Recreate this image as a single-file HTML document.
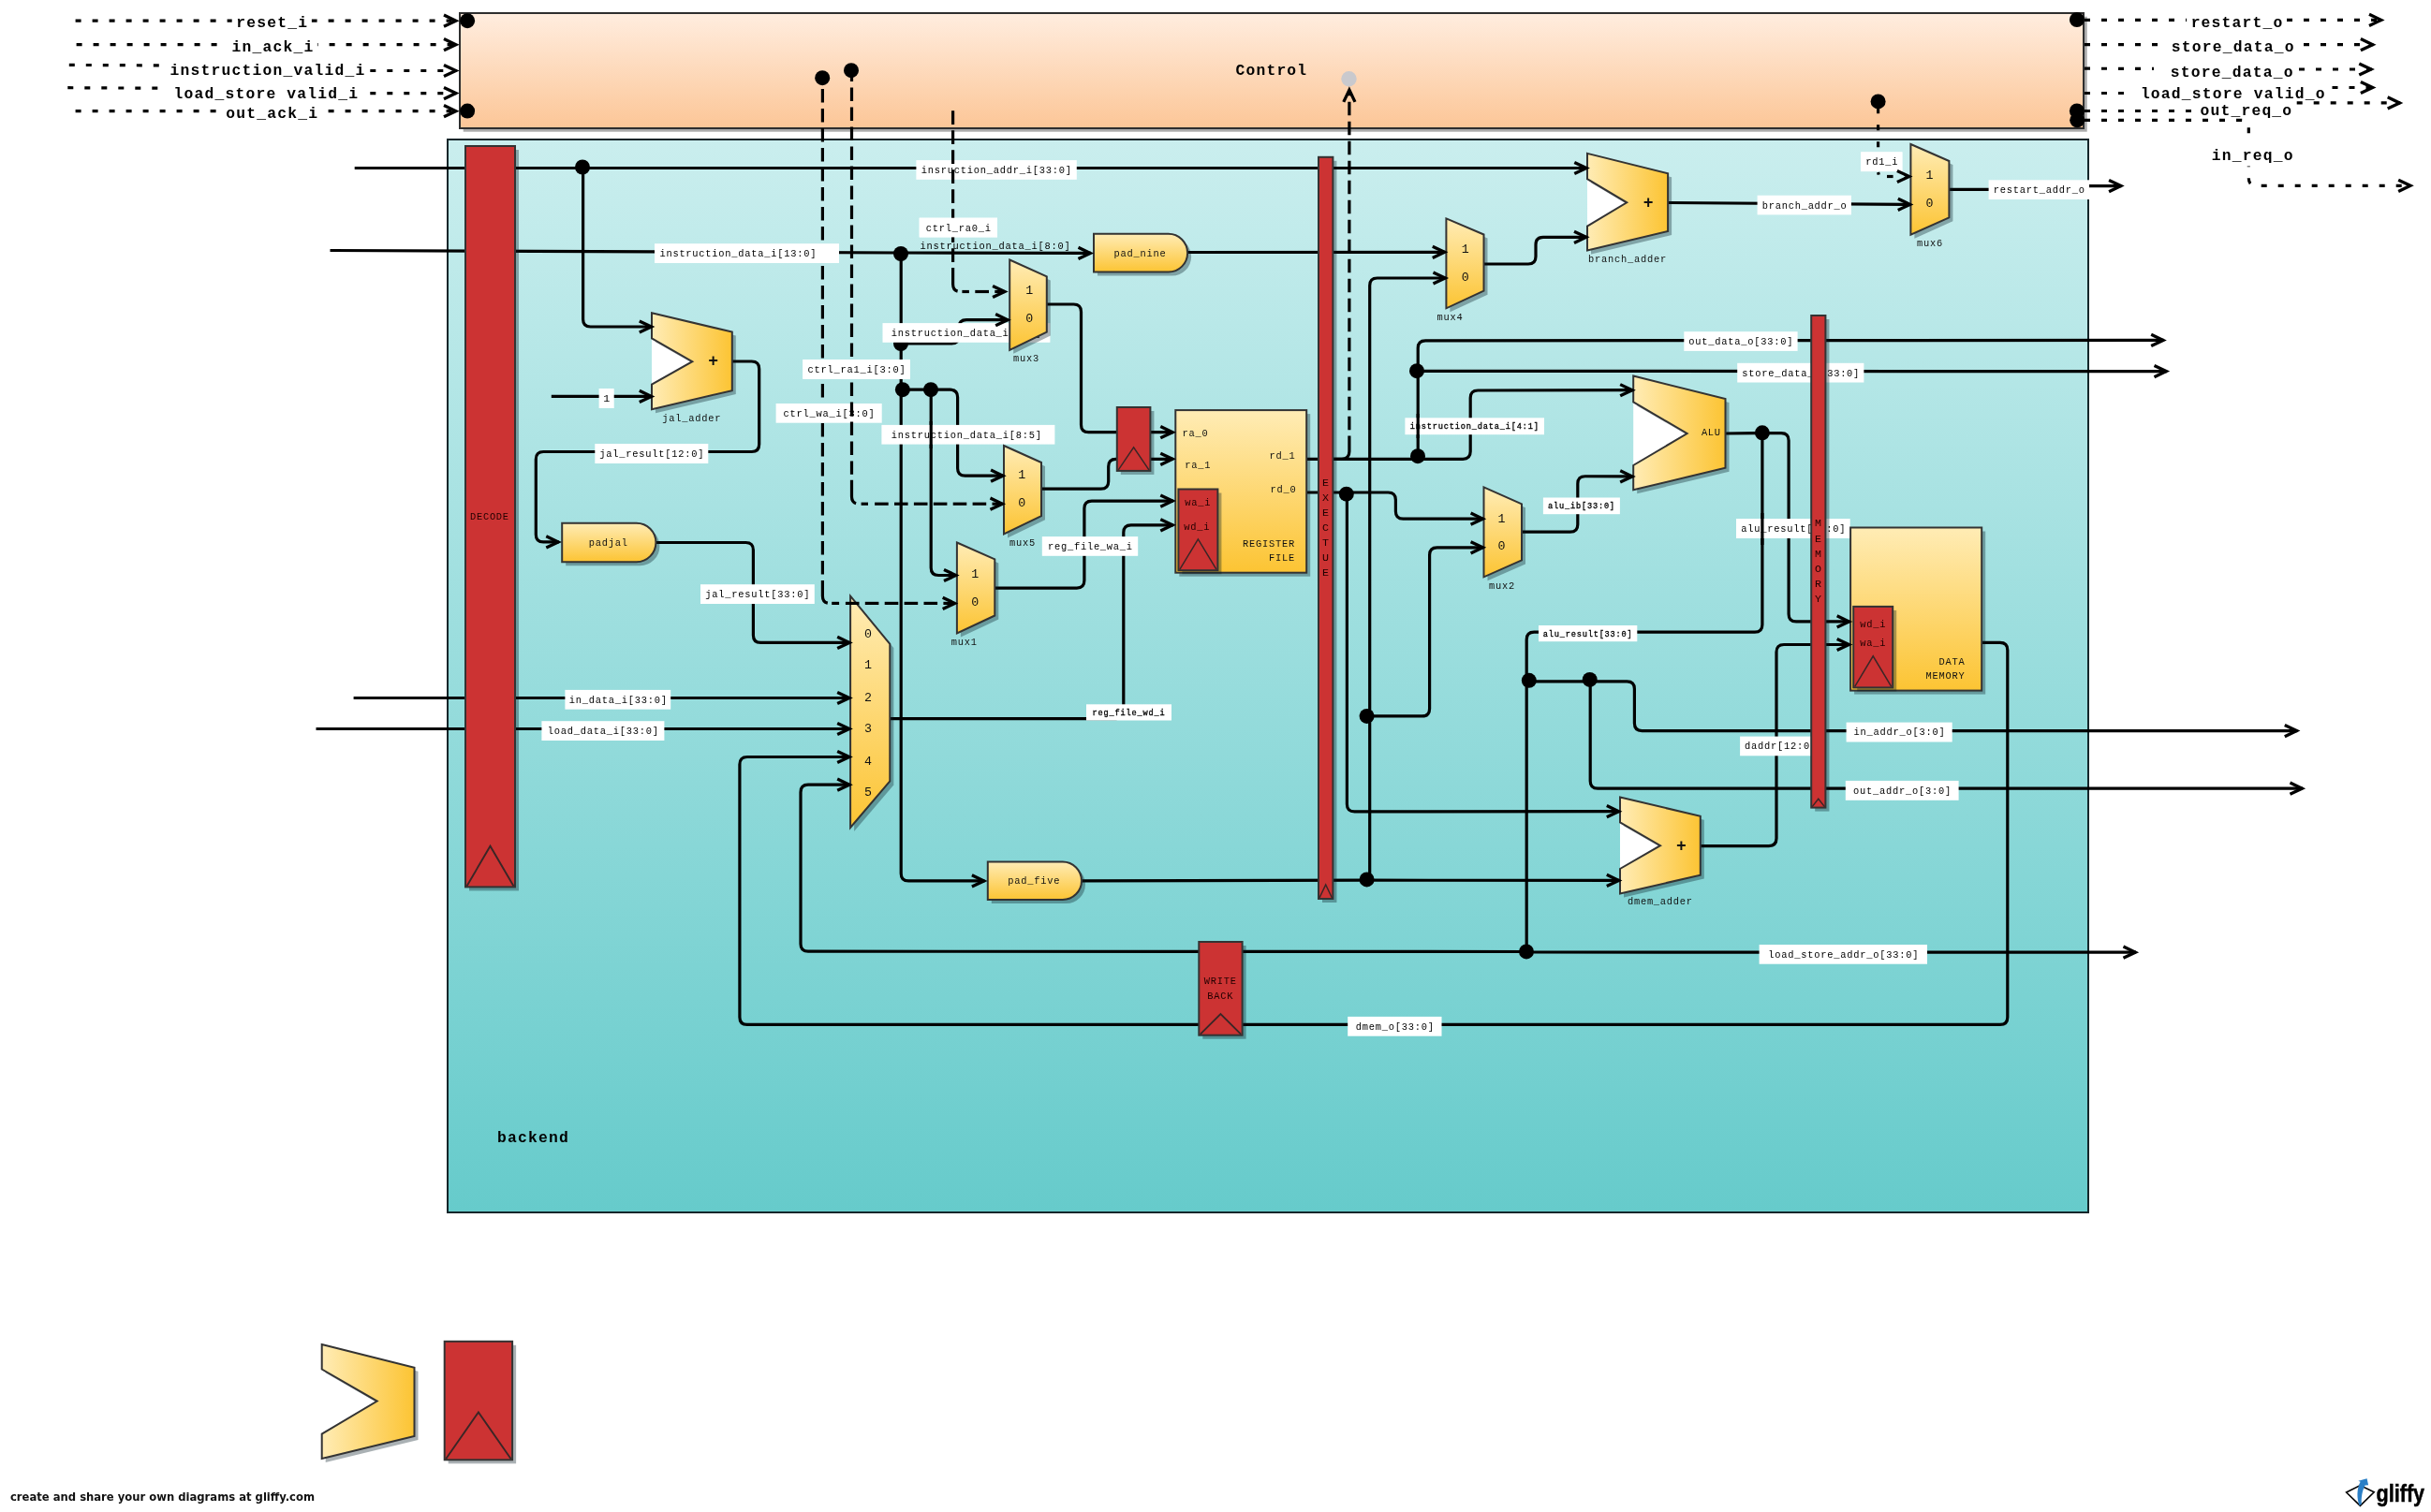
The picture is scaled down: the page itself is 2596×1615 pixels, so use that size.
<!DOCTYPE html>
<html><head><meta charset="utf-8"><title>backend datapath</title>
<style>html,body{margin:0;padding:0;background:#fff}svg{display:block;will-change:transform}text{white-space:pre}</style>
</head><body>
<svg width="2596" height="1615" viewBox="0 0 2596 1615">
<defs>
<linearGradient id="gctl" x1="0" y1="0" x2="0" y2="1"><stop offset="0" stop-color="#ffeddf"/><stop offset="1" stop-color="#fcc697"/></linearGradient>
<linearGradient id="gbk" x1="0" y1="0" x2="0" y2="1"><stop offset="0" stop-color="#caeeee"/><stop offset="1" stop-color="#66cbcb"/></linearGradient>
<linearGradient id="gyv" x1="0" y1="0" x2="0" y2="1"><stop offset="0" stop-color="#ffecb5"/><stop offset="1" stop-color="#fcc433"/></linearGradient>
<linearGradient id="gyh" x1="0" y1="0" x2="1" y2="0"><stop offset="0" stop-color="#ffecb5"/><stop offset="1" stop-color="#fcc433"/></linearGradient>
</defs>
<rect x="494.7" y="17.7" width="1734" height="123" fill="rgba(0,0,0,0.33)"/>
<rect x="491" y="14" width="1734" height="123" fill="url(#gctl)" stroke="#2e2e2e" stroke-width="2"/>
<rect x="478" y="149" width="1752" height="1146" fill="url(#gbk)" stroke="#14262a" stroke-width="2"/>
<text x="1357.9" y="80" font-family='"Liberation Mono","DejaVu Sans Mono",monospace' font-size="16.31" font-weight="bold" text-anchor="middle" fill="#000" letter-spacing="1.21">Control</text>
<text x="531" y="1219.7" font-family='"Liberation Mono","DejaVu Sans Mono",monospace' font-size="16.31" font-weight="bold" text-anchor="start" fill="#000" letter-spacing="1.21">backend</text>
<text x="982.6" y="265.68" font-family='"Liberation Mono","DejaVu Sans Mono",monospace' font-size="10.39" text-anchor="start" fill="#000" letter-spacing="0.77">instruction_data_i[8:0]</text>
<path d="M378.7 179.5 L1694.8 179.5" fill="none" stroke="#000" stroke-width="3.2"/>
<path d="M622.6 179 L622.6 341 Q622.6 349 630.6 349 L696.3 349" fill="none" stroke="#000" stroke-width="3.2"/>
<path d="M352.5 267.5 L962 270 Q962 270 962 270 L1165 270.39" fill="none" stroke="#000" stroke-width="3.2"/>
<path d="M588.8 423.4 L696.3 423.4" fill="none" stroke="#000" stroke-width="3.2"/>
<path d="M782 386 L802.7 386 Q810.7 386 810.7 394 L810.7 474.5 Q810.7 482.5 802.7 482.5 L580.3 482.5 Q572.3 482.5 572.3 490.5 L572.3 570.9 Q572.3 578.9 580.3 578.9 L596.8 578.9" fill="none" stroke="#000" stroke-width="3.2"/>
<path d="M700.4 579.5 L796.4 579.5 Q804.4 579.5 804.4 587.5 L804.4 678.4 Q804.4 686.4 812.4 686.4 L907.7 686.4" fill="none" stroke="#000" stroke-width="3.2"/>
<path d="M377.6 745.5 L907.7 745.5" fill="none" stroke="#000" stroke-width="3.2"/>
<path d="M337.5 778.5 L907.7 778.5" fill="none" stroke="#000" stroke-width="3.2"/>
<path d="M2116.2 686.4 L2135.8 686.4 Q2143.8 686.4 2143.8 694.4 L2143.8 1086.4 Q2143.8 1094.4 2135.8 1094.4 L797.9 1094.4 Q789.9 1094.4 789.9 1086.4 L789.9 816.5 Q789.9 808.5 797.9 808.5 L907.7 808.5" fill="none" stroke="#000" stroke-width="3.2"/>
<path d="M1630 1016.5 L863 1016.2 Q855 1016.2 855 1008.2 L855 846.2 Q855 838.2 863 838.2 L907.7 838.2" fill="none" stroke="#000" stroke-width="3.2"/>
<path d="M1630 1017 L2281 1017.2" fill="none" stroke="#000" stroke-width="3.2"/>
<path d="M1630.2 1016.5 L1630.2 683.2 Q1630.2 675.2 1638.2 675.2 L1873.9 675.2 Q1881.9 675.2 1881.9 667.2 L1881.9 462.5" fill="none" stroke="#000" stroke-width="3.2"/>
<path d="M1632.8 727.8 L1737.4 727.8 Q1745.4 727.8 1745.4 735.8 L1745.4 772.6 Q1745.4 780.6 1753.4 780.6 L2453.3 780.6" fill="none" stroke="#000" stroke-width="3.2"/>
<path d="M1698.2 726 L1698.2 834.2 Q1698.2 842.2 1706.2 842.2 L2459 842.2" fill="none" stroke="#000" stroke-width="3.2"/>
<path d="M950.3 767.7 L1191.8 767.7 Q1199.8 767.7 1199.8 759.7 L1199.8 568.8 Q1199.8 560.8 1207.8 560.8 L1252.8 560.8" fill="none" stroke="#000" stroke-width="3.2"/>
<path d="M1062.3 628.1 L1149.9 628.1 Q1157.9 628.1 1157.9 620.1 L1157.9 543.1 Q1157.9 535.1 1165.9 535.1 L1252.8 535.1" fill="none" stroke="#000" stroke-width="3.2"/>
<path d="M1112 522.2 L1175.7 522.2 Q1183.7 522.2 1183.7 514.2 L1183.7 498.3 Q1183.7 490.3 1191.7 490.3 L1252.8 490.3" fill="none" stroke="#000" stroke-width="3.2"/>
<path d="M1117.8 325 L1146.5 325 Q1154.5 325 1154.5 333 L1154.5 453.7 Q1154.5 461.7 1162.5 461.7 L1252.8 461.7" fill="none" stroke="#000" stroke-width="3.2"/>
<path d="M962.2 271 L962.2 932.9 Q962.2 940.9 970.2 940.9 L1051.4 940.9" fill="none" stroke="#000" stroke-width="3.2"/>
<path d="M962 367 L1016 367 Q1024 367 1024 359 L1024 349.7 Q1024 341.7 1032 341.7 L1076.7 341.7" fill="none" stroke="#000" stroke-width="3.2"/>
<path d="M963.9 416.2 L1014.6 416.2 Q1022.6 416.2 1022.6 424.2 L1022.6 500.2 Q1022.6 508.2 1030.6 508.2 L1071.6 508.2" fill="none" stroke="#000" stroke-width="3.2"/>
<path d="M994.2 416.2 L994.2 606.5 Q994.2 614.5 1002.2 614.5 L1021.5 614.5" fill="none" stroke="#000" stroke-width="3.2"/>
<path d="M1268 269.5 L1543.3 269.3" fill="none" stroke="#000" stroke-width="3.2"/>
<path d="M1584.5 282 L1632 282 Q1640 282 1640 274 L1640 261.3 Q1640 253.3 1648 253.3 L1694.5 253.3" fill="none" stroke="#000" stroke-width="3.2"/>
<path d="M1781.1 216.5 L2040.3 218.4" fill="none" stroke="#000" stroke-width="3.2"/>
<path d="M2081.4 202.4 L2130 202.4" fill="none" stroke="#000" stroke-width="3.2"/>
<path d="M2225 198.6 L2265.6 198.6" fill="none" stroke="#000" stroke-width="3.2"/>
<path d="M1395.2 490.3 L1562.2 490.3 Q1570.2 490.3 1570.2 482.3 L1570.2 425 Q1570.2 417 1578.2 416.99 L1743.7 416.7" fill="none" stroke="#000" stroke-width="3.2"/>
<path d="M1514.2 487.5 L1514.2 371.8 Q1514.2 363.8 1522.2 363.8 L2310.7 363.4" fill="none" stroke="#000" stroke-width="3.2"/>
<path d="M1513 396.4 L2314 396.6" fill="none" stroke="#000" stroke-width="3.2"/>
<path d="M1395.2 526 L1482.4 526 Q1490.4 526 1490.4 534 L1490.4 546.2 Q1490.4 554.2 1498.4 554.2 L1584.1 554.2" fill="none" stroke="#000" stroke-width="3.2"/>
<path d="M1438.4 527.6 L1438.4 858.9 Q1438.4 866.9 1446.4 866.89 L1729.3 866.7" fill="none" stroke="#000" stroke-width="3.2"/>
<path d="M1462.7 939.2 L1462.7 305 Q1462.7 297 1470.7 297 L1544 297" fill="none" stroke="#000" stroke-width="3.2"/>
<path d="M1459.6 764.9 L1518.6 764.9 Q1526.6 764.9 1526.6 756.9 L1526.6 592.8 Q1526.6 584.8 1534.6 584.8 L1584.1 584.8" fill="none" stroke="#000" stroke-width="3.2"/>
<path d="M1155 940.9 L1459.6 940.2 Q1459.6 940.2 1459.6 940.2 L1729.3 940.4" fill="none" stroke="#000" stroke-width="3.2"/>
<path d="M1625 568.2 L1676.8 568.2 Q1684.8 568.2 1684.8 560.2 L1684.8 516.7 Q1684.8 508.7 1692.8 508.73 L1743.7 508.9" fill="none" stroke="#000" stroke-width="3.2"/>
<path d="M1842.5 463 L1873.9 462.68 Q1881.9 462.6 1889.9 462.6 L1902.1 462.6 Q1910.1 462.6 1910.1 470.6 L1910.1 655.9 Q1910.1 663.9 1918.1 663.9 L1975.2 663.9" fill="none" stroke="#000" stroke-width="3.2"/>
<path d="M1815.9 903.6 L1889 903.6 Q1897 903.6 1897 895.6 L1897 696.5 Q1897 688.5 1905 688.5 L1975.2 688.5" fill="none" stroke="#000" stroke-width="3.2"/>
<circle cx="622" cy="178.5" r="8" fill="#000"/>
<circle cx="962" cy="271" r="8" fill="#000"/>
<circle cx="962" cy="367" r="8" fill="#000"/>
<circle cx="963.9" cy="416.2" r="8" fill="#000"/>
<circle cx="994" cy="416.2" r="8" fill="#000"/>
<circle cx="1514" cy="487.2" r="8" fill="#000"/>
<circle cx="1513" cy="396.2" r="8" fill="#000"/>
<circle cx="1437.8" cy="527.7" r="8" fill="#000"/>
<circle cx="1459.6" cy="764.9" r="8" fill="#000"/>
<circle cx="1459.6" cy="939.4" r="8" fill="#000"/>
<circle cx="1881.9" cy="462.3" r="8" fill="#000"/>
<circle cx="1632.8" cy="726.8" r="8" fill="#000"/>
<circle cx="1697.7" cy="725.9" r="8" fill="#000"/>
<circle cx="1630" cy="1016.4" r="8" fill="#000"/>
<circle cx="878.2" cy="83.2" r="8" fill="#000"/>
<circle cx="909" cy="75.2" r="8" fill="#000"/>
<circle cx="499.1" cy="22.2" r="8" fill="#000"/>
<circle cx="499.1" cy="118.6" r="8" fill="#000"/>
<circle cx="2217.9" cy="21.1" r="8" fill="#000"/>
<circle cx="2217.9" cy="118.5" r="8" fill="#000"/>
<circle cx="2218.2" cy="128.3" r="8" fill="#000"/>
<circle cx="2005.6" cy="108.4" r="8" fill="#000"/>
<circle cx="1440.5" cy="84.2" r="8.2" fill="#c9c9cd"/>
<polygon points="912.1,640.7 954.3,691.9 954.3,838.4 912.1,888" fill="rgba(5,25,35,0.34)"/>
<polygon points="908.1,636.7 950.3,687.9 950.3,834.4 908.1,884" fill="url(#gyv)" stroke="#333" stroke-width="2" stroke-linejoin="miter"/>
<text x="927" y="680.6" font-family='"Liberation Mono","DejaVu Sans Mono",monospace' font-size="13.3" text-anchor="middle" fill="#111">0</text>
<text x="927" y="714.3" font-family='"Liberation Mono","DejaVu Sans Mono",monospace' font-size="13.3" text-anchor="middle" fill="#111">1</text>
<text x="927" y="748.6" font-family='"Liberation Mono","DejaVu Sans Mono",monospace' font-size="13.3" text-anchor="middle" fill="#111">2</text>
<text x="927" y="782.3" font-family='"Liberation Mono","DejaVu Sans Mono",monospace' font-size="13.3" text-anchor="middle" fill="#111">3</text>
<text x="927" y="816.6" font-family='"Liberation Mono","DejaVu Sans Mono",monospace' font-size="13.3" text-anchor="middle" fill="#111">4</text>
<text x="927" y="850.3" font-family='"Liberation Mono","DejaVu Sans Mono",monospace' font-size="13.3" text-anchor="middle" fill="#111">5</text>
<path d="M878.4 83.2 L878.4 614.1" fill="none" stroke="#000" stroke-width="3.2" stroke-dasharray="14.7 6.3" stroke-dashoffset="9.3"/>
<path d="M878.4 620.1 L878.4 636.4 Q878.4 642.97 883.8 644.15" fill="none" stroke="#000" stroke-width="3.2"/>
<path d="M888.2 644.4 L896.1 644.4" fill="none" stroke="#000" stroke-width="3.2"/>
<path d="M902.9 644.4 L917.5 644.4" fill="none" stroke="#000" stroke-width="3.2"/>
<path d="M923.8 644.4 L938.4 644.4" fill="none" stroke="#000" stroke-width="3.2"/>
<path d="M944.7 644.4 L959.3 644.4" fill="none" stroke="#000" stroke-width="3.2"/>
<path d="M965.6 644.4 L980.2 644.4" fill="none" stroke="#000" stroke-width="3.2"/>
<path d="M986.5 644.4 L1001.1 644.4" fill="none" stroke="#000" stroke-width="3.2"/>
<path d="M1007.4 644.4 L1019.5 644.4" fill="none" stroke="#000" stroke-width="3.2"/>
<rect x="978.4" y="171.1" width="171.4" height="20.7" fill="#fff"/>
<text x="983.8" y="184.83" font-family='"Liberation Mono","DejaVu Sans Mono",monospace' font-size="10.39" text-anchor="start" fill="#000" letter-spacing="0.77">insruction_addr_i[33:0]</text>
<rect x="699" y="260.2" width="197" height="20.8" fill="#fff"/>
<text x="704.4" y="273.98" font-family='"Liberation Mono","DejaVu Sans Mono",monospace' font-size="10.39" text-anchor="start" fill="#000" letter-spacing="0.77">instruction_data_i[13:0]</text>
<rect x="981.7" y="232.7" width="83.3" height="20.7" fill="#fff"/>
<text x="1023.74" y="246.83" font-family='"Liberation Mono","DejaVu Sans Mono",monospace' font-size="10.39" text-anchor="middle" fill="#000" letter-spacing="0.77">ctrl_ra0_i</text>
<rect x="942.5" y="345.1" width="178.9" height="20.7" fill="#fff"/>
<text x="951.7" y="358.98" font-family='"Liberation Mono","DejaVu Sans Mono",monospace' font-size="10.39" text-anchor="start" fill="#000" letter-spacing="0.77">instruction_data_i[8:0]</text>
<rect x="857.3" y="384.1" width="114.5" height="20.7" fill="#fff"/>
<text x="914.94" y="398.18" font-family='"Liberation Mono","DejaVu Sans Mono",monospace' font-size="10.39" text-anchor="middle" fill="#000" letter-spacing="0.77">ctrl_ra1_i[3:0]</text>
<rect x="828.6" y="431" width="113.1" height="20.7" fill="#fff"/>
<text x="885.54" y="445.23" font-family='"Liberation Mono","DejaVu Sans Mono",monospace' font-size="10.39" text-anchor="middle" fill="#000" letter-spacing="0.77">ctrl_wa_i[3:0]</text>
<rect x="941.4" y="453.9" width="185" height="20.7" fill="#fff"/>
<text x="951.8" y="467.93" font-family='"Liberation Mono","DejaVu Sans Mono",monospace' font-size="10.39" text-anchor="start" fill="#000" letter-spacing="0.77">instruction_data_i[8:5]</text>
<rect x="639.6" y="415" width="16.1" height="21" fill="#fff"/>
<text x="647.65" y="428.88" font-family='"Liberation Mono","DejaVu Sans Mono",monospace' font-size="11.67" text-anchor="middle" fill="#000">1</text>
<rect x="635.3" y="474" width="121" height="21" fill="#fff"/>
<text x="696.19" y="487.88" font-family='"Liberation Mono","DejaVu Sans Mono",monospace' font-size="10.39" text-anchor="middle" fill="#000" letter-spacing="0.77">jal_result[12:0]</text>
<rect x="748" y="624.2" width="121.8" height="20.8" fill="#fff"/>
<text x="809.29" y="637.98" font-family='"Liberation Mono","DejaVu Sans Mono",monospace' font-size="10.39" text-anchor="middle" fill="#000" letter-spacing="0.77">jal_result[33:0]</text>
<rect x="603.4" y="736.9" width="112.8" height="20.8" fill="#fff"/>
<text x="660.19" y="750.68" font-family='"Liberation Mono","DejaVu Sans Mono",monospace' font-size="10.39" text-anchor="middle" fill="#000" letter-spacing="0.77">in_data_i[33:0]</text>
<rect x="578.4" y="770.2" width="131" height="20.8" fill="#fff"/>
<text x="644.29" y="783.98" font-family='"Liberation Mono","DejaVu Sans Mono",monospace' font-size="10.39" text-anchor="middle" fill="#000" letter-spacing="0.77">load_data_i[33:0]</text>
<rect x="1112.8" y="573.1" width="102.4" height="20.7" fill="#fff"/>
<text x="1164.39" y="586.98" font-family='"Liberation Mono","DejaVu Sans Mono",monospace' font-size="10.39" text-anchor="middle" fill="#000" letter-spacing="0.77">reg_file_wa_i</text>
<rect x="1160" y="752.3" width="91" height="17.2" fill="#fff"/>
<text x="1205.5" y="763.8" font-family='"Liberation Mono","DejaVu Sans Mono",monospace' font-size="8.6" text-anchor="middle" fill="#000" stroke="#000" stroke-width="0.3" letter-spacing="0.84">reg_file_wd_i</text>
<rect x="1500.4" y="446.3" width="148.6" height="17.9" fill="#fff"/>
<text x="1574.7" y="458.15" font-family='"Liberation Mono","DejaVu Sans Mono",monospace' font-size="8.6" text-anchor="middle" fill="#000" stroke="#000" stroke-width="0.3" letter-spacing="0.84">instruction_data_i[4:1]</text>
<rect x="1647.9" y="531.5" width="82" height="17.7" fill="#fff"/>
<text x="1688.9" y="543.25" font-family='"Liberation Mono","DejaVu Sans Mono",monospace' font-size="8.6" text-anchor="middle" fill="#000" stroke="#000" stroke-width="0.3" letter-spacing="0.84">alu_ib[33:0]</text>
<rect x="1643" y="668" width="105.3" height="17.2" fill="#fff"/>
<text x="1695.65" y="679.5" font-family='"Liberation Mono","DejaVu Sans Mono",monospace' font-size="8.6" text-anchor="middle" fill="#000" stroke="#000" stroke-width="0.3" letter-spacing="0.84">alu_result[33:0]</text>
<rect x="1854" y="554.1" width="121.7" height="20.9" fill="#fff"/>
<text x="1915.24" y="567.93" font-family='"Liberation Mono","DejaVu Sans Mono",monospace' font-size="10.39" text-anchor="middle" fill="#000" letter-spacing="0.77">alu_result[33:0]</text>
<rect x="1798.3" y="354.2" width="121.3" height="20.7" fill="#fff"/>
<text x="1859.34" y="368.03" font-family='"Liberation Mono","DejaVu Sans Mono",monospace' font-size="10.39" text-anchor="middle" fill="#000" letter-spacing="0.77">out_data_o[33:0]</text>
<rect x="1855.2" y="387.8" width="135.2" height="20.7" fill="#fff"/>
<text x="1860.2" y="401.63" font-family='"Liberation Mono","DejaVu Sans Mono",monospace' font-size="10.39" text-anchor="start" fill="#000" letter-spacing="0.77">store_data_o[33:0]</text>
<rect x="1876.6" y="208.7" width="100.3" height="20.7" fill="#fff"/>
<text x="1927.14" y="222.58" font-family='"Liberation Mono","DejaVu Sans Mono",monospace' font-size="10.39" text-anchor="middle" fill="#000" letter-spacing="0.77">branch_addr_o</text>
<rect x="2123.6" y="192.3" width="107.4" height="20.7" fill="#fff"/>
<text x="2177.69" y="206.18" font-family='"Liberation Mono","DejaVu Sans Mono",monospace' font-size="10.39" text-anchor="middle" fill="#000" letter-spacing="0.77">restart_addr_o</text>
<rect x="1987.2" y="162.4" width="44.2" height="20.7" fill="#fff"/>
<text x="2009.69" y="176.43" font-family='"Liberation Mono","DejaVu Sans Mono",monospace' font-size="10.39" text-anchor="middle" fill="#000" letter-spacing="0.77">rd1_i</text>
<rect x="1971.6" y="771.6" width="113.1" height="20.9" fill="#fff"/>
<text x="2028.54" y="785.43" font-family='"Liberation Mono","DejaVu Sans Mono",monospace' font-size="10.39" text-anchor="middle" fill="#000" letter-spacing="0.77">in_addr_o[3:0]</text>
<rect x="1970.8" y="833.9" width="120.8" height="20.9" fill="#fff"/>
<text x="2031.59" y="847.73" font-family='"Liberation Mono","DejaVu Sans Mono",monospace' font-size="10.39" text-anchor="middle" fill="#000" letter-spacing="0.77">out_addr_o[3:0]</text>
<rect x="1858.1" y="786.6" width="87.9" height="20.7" fill="#fff"/>
<text x="1863" y="800.43" font-family='"Liberation Mono","DejaVu Sans Mono",monospace' font-size="10.39" text-anchor="start" fill="#000" letter-spacing="0.77">daddr[12:0]</text>
<rect x="1878.6" y="1009" width="179.4" height="20.7" fill="#fff"/>
<text x="1968.69" y="1022.88" font-family='"Liberation Mono","DejaVu Sans Mono",monospace' font-size="10.39" text-anchor="middle" fill="#000" letter-spacing="0.77">load_store_addr_o[33:0]</text>
<rect x="1439.2" y="1085.9" width="100.3" height="20.8" fill="#fff"/>
<text x="1489.74" y="1099.68" font-family='"Liberation Mono","DejaVu Sans Mono",monospace' font-size="10.39" text-anchor="middle" fill="#000" letter-spacing="0.77">dmem_o[33:0]</text>
<path d="M1881.9 548 L1881.9 582" fill="none" stroke="#000" stroke-width="3.2"/>
<path d="M909.5 75.2 L909.5 506.8" fill="none" stroke="#000" stroke-width="3.2" stroke-dasharray="14.7 6.3" stroke-dashoffset="2.8"/>
<path d="M909.5 512.8 L909.5 530.2 Q909.5 536.27 914.1 537.73" fill="none" stroke="#000" stroke-width="3.2"/>
<path d="M919.6 538.2 L927 538.2" fill="none" stroke="#000" stroke-width="3.2"/>
<path d="M934.1 538.2 L948.7 538.2" fill="none" stroke="#000" stroke-width="3.2"/>
<path d="M955 538.2 L969.6 538.2" fill="none" stroke="#000" stroke-width="3.2"/>
<path d="M975.9 538.2 L990.5 538.2" fill="none" stroke="#000" stroke-width="3.2"/>
<path d="M996.8 538.2 L1011.4 538.2" fill="none" stroke="#000" stroke-width="3.2"/>
<path d="M1017.7 538.2 L1032.3 538.2" fill="none" stroke="#000" stroke-width="3.2"/>
<path d="M1038.6 538.2 L1053.2 538.2" fill="none" stroke="#000" stroke-width="3.2"/>
<path d="M1059.5 538.2 L1070.5 538.2" fill="none" stroke="#000" stroke-width="3.2"/>
<path d="M1017.6 118.2 L1017.6 280.1" fill="none" stroke="#000" stroke-width="3.2" stroke-dasharray="14.7 6.3"/>
<path d="M1017.6 286.1 L1017.6 303.5 Q1017.6 309.82 1022.6 311.15" fill="none" stroke="#000" stroke-width="3.2"/>
<path d="M1027.4 311.5 L1034.9 311.5" fill="none" stroke="#000" stroke-width="3.2"/>
<path d="M1041.3 311.5 L1056 311.5" fill="none" stroke="#000" stroke-width="3.2"/>
<path d="M1062.3 311.5 L1073 311.5" fill="none" stroke="#000" stroke-width="3.2"/>
<path d="M1424 490.3 L1432.9 490.3 Q1440.9 490.3 1440.9 482.3 L1440.9 465.6" fill="none" stroke="#000" stroke-width="3.2"/>
<path d="M1440.9 459.3 L1440.9 96.2" fill="none" stroke="#000" stroke-width="3.2" stroke-dasharray="14.6 6.4"/>
<rect x="857.3" y="384.1" width="114.5" height="20.7" fill="#fff"/>
<text x="914.94" y="398.18" font-family='"Liberation Mono","DejaVu Sans Mono",monospace' font-size="10.39" text-anchor="middle" fill="#000" letter-spacing="0.77">ctrl_ra1_i[3:0]</text>
<path d="M994.2 450 L994.2 479" fill="none" stroke="#000" stroke-width="3.2"/>
<path d="M1514.2 442 L1514.2 468" fill="none" stroke="#000" stroke-width="3.2"/>
<rect x="981.7" y="232.7" width="83.3" height="20.7" fill="#fff"/>
<text x="1023.74" y="246.83" font-family='"Liberation Mono","DejaVu Sans Mono",monospace' font-size="10.39" text-anchor="middle" fill="#000" letter-spacing="0.77">ctrl_ra0_i</text>
<path d="M2005.6 108.4 L2005.6 162" fill="none" stroke="#000" stroke-width="3.2" stroke-dasharray="6 12" stroke-dashoffset="11.1"/>
<path d="M2005.6 184 L2006.3 186.6" fill="none" stroke="#000" stroke-width="3.2"/>
<path d="M2015 188.5 L2021.6 188.5" fill="none" stroke="#000" stroke-width="3.2"/>
<rect x="1987.2" y="162.4" width="44.2" height="20.7" fill="#fff"/>
<text x="2009.69" y="176.43" font-family='"Liberation Mono","DejaVu Sans Mono",monospace' font-size="10.39" text-anchor="middle" fill="#000" letter-spacing="0.77">rd1_i</text>
<path d="M80.6 22.2 L487.5 22.2" fill="none" stroke="#000" stroke-width="3.2" stroke-dasharray="6 12"/>
<path d="M81.6 47.7 L487.5 47.7" fill="none" stroke="#000" stroke-width="3.2" stroke-dasharray="6 12"/>
<path d="M73.8 69.4 L171 69.9" fill="none" stroke="#000" stroke-width="3.2" stroke-dasharray="6 12"/>
<path d="M395.3 75.5 L487.5 75.5" fill="none" stroke="#000" stroke-width="3.2" stroke-dasharray="6 12"/>
<path d="M72.3 93.7 L170 94.2" fill="none" stroke="#000" stroke-width="3.2" stroke-dasharray="6 12"/>
<path d="M395.3 99.6 L487.5 99.6" fill="none" stroke="#000" stroke-width="3.2" stroke-dasharray="6 12"/>
<path d="M80.6 118.7 L487.5 118.7" fill="none" stroke="#000" stroke-width="3.2" stroke-dasharray="6 12"/>
<rect x="247.7" y="16.4" width="85" height="16" fill="#fff"/>
<text x="290.8" y="29.4" font-family='"Liberation Mono","DejaVu Sans Mono",monospace' font-size="16.31" font-weight="bold" text-anchor="middle" fill="#000" letter-spacing="1.21">reset_i</text>
<rect x="242.9" y="41.9" width="96" height="16" fill="#fff"/>
<text x="291.5" y="54.9" font-family='"Liberation Mono","DejaVu Sans Mono",monospace' font-size="16.31" font-weight="bold" text-anchor="middle" fill="#000" letter-spacing="1.21">in_ack_i</text>
<rect x="179.9" y="66.8" width="211" height="16" fill="#fff"/>
<text x="286" y="79.8" font-family='"Liberation Mono","DejaVu Sans Mono",monospace' font-size="16.31" font-weight="bold" text-anchor="middle" fill="#000" letter-spacing="1.21">instruction_valid_i</text>
<rect x="183.8" y="91.5" width="200" height="16" fill="#fff"/>
<text x="284.4" y="104.5" font-family='"Liberation Mono","DejaVu Sans Mono",monospace' font-size="16.31" font-weight="bold" text-anchor="middle" fill="#000" letter-spacing="1.21">load_store valid_i</text>
<rect x="236.7" y="112.8" width="107" height="16" fill="#fff"/>
<text x="290.8" y="125.8" font-family='"Liberation Mono","DejaVu Sans Mono",monospace' font-size="16.31" font-weight="bold" text-anchor="middle" fill="#000" letter-spacing="1.21">out_ack_i</text>
<path d="M2226 21.4 L2543.5 21.4" fill="none" stroke="#000" stroke-width="3.2" stroke-dasharray="6 12"/>
<path d="M2226 47.7 L2534.4 47.7" fill="none" stroke="#000" stroke-width="3.2" stroke-dasharray="6 12"/>
<path d="M2226 73.2 L2300 73.4" fill="none" stroke="#000" stroke-width="3.2" stroke-dasharray="6 12"/>
<path d="M2455 74 L2532.8 74" fill="none" stroke="#000" stroke-width="3.2" stroke-dasharray="6 12"/>
<path d="M2226 99.5 L2275 99.5" fill="none" stroke="#000" stroke-width="3.2" stroke-dasharray="6 12"/>
<path d="M2490.5 93.5 L2534.4 93.5" fill="none" stroke="#000" stroke-width="3.2" stroke-dasharray="6 12"/>
<path d="M2226 118.5 L2340 118.5" fill="none" stroke="#000" stroke-width="3.2" stroke-dasharray="6 12"/>
<path d="M2452.7 109.9 L2563.2 109.9" fill="none" stroke="#000" stroke-width="3.2" stroke-dasharray="6 12"/>
<path d="M2226 128.3 L2393.3 128.3 Q2401.3 128.3 2401.3 136.3 L2401.3 190.3 Q2401.3 198.3 2409.3 198.3 L2574.7 198.3" fill="none" stroke="#000" stroke-width="3.2" stroke-dasharray="6 12"/>
<rect x="2335" y="16" width="107" height="16" fill="#fff"/>
<text x="2389.1" y="29" font-family='"Liberation Mono","DejaVu Sans Mono",monospace' font-size="16.31" font-weight="bold" text-anchor="middle" fill="#000" letter-spacing="1.21">restart_o</text>
<rect x="2314.2" y="41.5" width="140" height="16" fill="#fff"/>
<text x="2384.8" y="54.5" font-family='"Liberation Mono","DejaVu Sans Mono",monospace' font-size="16.31" font-weight="bold" text-anchor="middle" fill="#000" letter-spacing="1.21">store_data_o</text>
<rect x="2313.1" y="68.6" width="140" height="16" fill="#fff"/>
<text x="2383.7" y="81.6" font-family='"Liberation Mono","DejaVu Sans Mono",monospace' font-size="16.31" font-weight="bold" text-anchor="middle" fill="#000" letter-spacing="1.21">store_data_o</text>
<rect x="2284.2" y="91.7" width="200" height="16" fill="#fff"/>
<text x="2384.8" y="104.7" font-family='"Liberation Mono","DejaVu Sans Mono",monospace' font-size="16.31" font-weight="bold" text-anchor="middle" fill="#000" letter-spacing="1.21">load_store valid_o</text>
<rect x="2347.8" y="109.8" width="101" height="16" fill="#fff"/>
<text x="2398.9" y="122.8" font-family='"Liberation Mono","DejaVu Sans Mono",monospace' font-size="16.31" font-weight="bold" text-anchor="middle" fill="#000" letter-spacing="1.21">out_req_o</text>
<rect x="2395" y="145" width="13" height="32.5" fill="#fff"/>
<rect x="2357.1" y="157.5" width="96" height="16" fill="#fff"/>
<text x="2405.7" y="170.5" font-family='"Liberation Mono","DejaVu Sans Mono",monospace' font-size="16.31" font-weight="bold" text-anchor="middle" fill="#000" letter-spacing="1.21">in_req_o</text>
<rect x="501" y="160" width="53" height="791.4" fill="rgba(5,25,35,0.34)"/>
<rect x="497" y="156" width="53" height="791.4" fill="#cc3333" stroke="#333" stroke-width="2"/>
<path d="M498.5 946.4 L523.5 903.7 L548.5 946.4" fill="none" stroke="#3a2626" stroke-width="1.9" stroke-linejoin="miter"/>
<text x="522.89" y="555" font-family='"Liberation Mono","DejaVu Sans Mono",monospace' font-size="10.39" text-anchor="middle" fill="#200" letter-spacing="0.77">DECODE</text>
<rect x="1412" y="171.8" width="15.4" height="792.2" fill="rgba(5,25,35,0.34)"/>
<rect x="1408" y="167.8" width="15.4" height="792.2" fill="#cc3333" stroke="#333" stroke-width="2"/>
<path d="M1409 959 L1415.7 945 L1422.4 959" fill="none" stroke="#3a2626" stroke-width="1.5" stroke-linejoin="miter"/>
<text x="1415.4" y="519" font-family='"Liberation Mono","DejaVu Sans Mono",monospace' font-size="11.67" text-anchor="middle" fill="#200">E</text>
<text x="1415.4" y="535" font-family='"Liberation Mono","DejaVu Sans Mono",monospace' font-size="11.67" text-anchor="middle" fill="#200">X</text>
<text x="1415.4" y="551" font-family='"Liberation Mono","DejaVu Sans Mono",monospace' font-size="11.67" text-anchor="middle" fill="#200">E</text>
<text x="1415.4" y="567" font-family='"Liberation Mono","DejaVu Sans Mono",monospace' font-size="11.67" text-anchor="middle" fill="#200">C</text>
<text x="1415.4" y="583" font-family='"Liberation Mono","DejaVu Sans Mono",monospace' font-size="11.67" text-anchor="middle" fill="#200">T</text>
<text x="1415.4" y="599" font-family='"Liberation Mono","DejaVu Sans Mono",monospace' font-size="11.67" text-anchor="middle" fill="#200">U</text>
<text x="1415.4" y="615" font-family='"Liberation Mono","DejaVu Sans Mono",monospace' font-size="11.67" text-anchor="middle" fill="#200">E</text>
<rect x="1938.2" y="341" width="15.2" height="525.6" fill="rgba(5,25,35,0.34)"/>
<rect x="1934.2" y="337" width="15.2" height="525.6" fill="#cc3333" stroke="#333" stroke-width="2"/>
<path d="M1935.2 861.6 L1941.8 853.2 L1948.4 861.6" fill="none" stroke="#3a2626" stroke-width="1.5" stroke-linejoin="miter"/>
<text x="1941.6" y="562.4" font-family='"Liberation Mono","DejaVu Sans Mono",monospace' font-size="11.67" text-anchor="middle" fill="#200">M</text>
<text x="1941.6" y="578.5" font-family='"Liberation Mono","DejaVu Sans Mono",monospace' font-size="11.67" text-anchor="middle" fill="#200">E</text>
<text x="1941.6" y="594.6" font-family='"Liberation Mono","DejaVu Sans Mono",monospace' font-size="11.67" text-anchor="middle" fill="#200">M</text>
<text x="1941.6" y="610.7" font-family='"Liberation Mono","DejaVu Sans Mono",monospace' font-size="11.67" text-anchor="middle" fill="#200">O</text>
<text x="1941.6" y="626.8" font-family='"Liberation Mono","DejaVu Sans Mono",monospace' font-size="11.67" text-anchor="middle" fill="#200">R</text>
<text x="1941.6" y="642.9" font-family='"Liberation Mono","DejaVu Sans Mono",monospace' font-size="11.67" text-anchor="middle" fill="#200">Y</text>
<rect x="1284.3" y="1010" width="46.3" height="99.7" fill="rgba(5,25,35,0.34)"/>
<rect x="1280.3" y="1006" width="46.3" height="99.7" fill="#cc3333" stroke="#333" stroke-width="2"/>
<path d="M1281.8 1104.7 L1303.45 1083 L1325.1 1104.7" fill="none" stroke="#3a2626" stroke-width="1.9" stroke-linejoin="miter"/>
<text x="1303.19" y="1051.3" font-family='"Liberation Mono","DejaVu Sans Mono",monospace' font-size="10.39" text-anchor="middle" fill="#200" letter-spacing="0.77">WRITE</text>
<text x="1303.19" y="1067.3" font-family='"Liberation Mono","DejaVu Sans Mono",monospace' font-size="10.39" text-anchor="middle" fill="#200" letter-spacing="0.77">BACK</text>
<rect x="1196.8" y="439" width="35.6" height="67.9" fill="rgba(5,25,35,0.34)"/>
<rect x="1192.8" y="435" width="35.6" height="67.9" fill="#cc3333" stroke="#333" stroke-width="2"/>
<path d="M1194.3 501.9 L1210.6 477.8 L1226.9 501.9" fill="none" stroke="#3a2626" stroke-width="1.5" stroke-linejoin="miter"/>
<polygon points="696,361.3 739.3,386.2 696,410.6" fill="#fff"/>
<polygon points="700,338.2 785.8,358.6 785.8,421.1 700,441.3 700,414.6 743.3,390.2 700,365.3" fill="rgba(5,25,35,0.34)"/>
<polygon points="696,334.2 781.8,354.6 781.8,417.1 696,437.3 696,410.6 739.3,386.2 696,361.3" fill="url(#gyh)" stroke="#333" stroke-width="2" stroke-linejoin="miter"/>
<text x="761.6" y="391.4" font-family='"Liberation Mono","DejaVu Sans Mono",monospace' font-size="18" font-weight="bold" text-anchor="middle" fill="#111">+</text>
<text x="738.79" y="449.9" font-family='"Liberation Mono","DejaVu Sans Mono",monospace' font-size="10.39" text-anchor="middle" fill="#111" letter-spacing="0.77">jal_adder</text>
<polygon points="1695,191.2 1737.2,216.3 1695,241.6" fill="#fff"/>
<polygon points="1699,167.9 1785.1,189.2 1785.1,251 1699,271.5 1699,245.6 1741.2,220.3 1699,195.2" fill="rgba(5,25,35,0.34)"/>
<polygon points="1695,163.9 1781.1,185.2 1781.1,247 1695,267.5 1695,241.6 1737.2,216.3 1695,191.2" fill="url(#gyh)" stroke="#333" stroke-width="2" stroke-linejoin="miter"/>
<text x="1760.2" y="221.7" font-family='"Liberation Mono","DejaVu Sans Mono",monospace' font-size="18" font-weight="bold" text-anchor="middle" fill="#111">+</text>
<text x="1738.09" y="280.1" font-family='"Liberation Mono","DejaVu Sans Mono",monospace' font-size="10.39" text-anchor="middle" fill="#111" letter-spacing="0.77">branch_adder</text>
<polygon points="1744.2,429.4 1801.6,463 1744.2,497" fill="#fff"/>
<polygon points="1748.2,405.5 1846.5,430.1 1846.5,503.8 1748.2,527.2 1748.2,501 1805.6,467 1748.2,433.4" fill="rgba(5,25,35,0.34)"/>
<polygon points="1744.2,401.5 1842.5,426.1 1842.5,499.8 1744.2,523.2 1744.2,497 1801.6,463 1744.2,429.4" fill="url(#gyh)" stroke="#333" stroke-width="2" stroke-linejoin="miter"/>
<text x="1827.39" y="465" font-family='"Liberation Mono","DejaVu Sans Mono",monospace' font-size="10.39" text-anchor="middle" fill="#111" letter-spacing="0.77">ALU</text>
<polygon points="1730,878.3 1773,903.2 1730,928" fill="#fff"/>
<polygon points="1734,855.5 1819.8,875.8 1819.8,938.6 1734,958.5 1734,932 1777,907.2 1734,882.3" fill="rgba(5,25,35,0.34)"/>
<polygon points="1730,851.5 1815.8,871.8 1815.8,934.6 1730,954.5 1730,928 1773,903.2 1730,878.3" fill="url(#gyh)" stroke="#333" stroke-width="2" stroke-linejoin="miter"/>
<text x="1795.5" y="908.6" font-family='"Liberation Mono","DejaVu Sans Mono",monospace' font-size="18" font-weight="bold" text-anchor="middle" fill="#111">+</text>
<text x="1772.89" y="966.2" font-family='"Liberation Mono","DejaVu Sans Mono",monospace' font-size="10.39" text-anchor="middle" fill="#111" letter-spacing="0.77">dmem_adder</text>
<polygon points="347.7,1440 446.5,1464.8 446.5,1538 347.7,1562 347.7,1535.6 406.7,1500.6 347.7,1466.5" fill="rgba(5,25,35,0.34)"/>
<polygon points="343.7,1436 442.5,1460.8 442.5,1534 343.7,1558 343.7,1531.6 402.7,1496.6 343.7,1462.5" fill="url(#gyh)" stroke="#333" stroke-width="2" stroke-linejoin="miter"/>
<rect x="478.7" y="1436.8" width="72.4" height="126.5" fill="rgba(5,25,35,0.34)"/>
<rect x="474.7" y="1432.8" width="72.4" height="126.5" fill="#cc3333" stroke="#333" stroke-width="2"/>
<path d="M476.2 1558.3 L510.9 1508.4 L545.6 1558.3" fill="none" stroke="#3a2626" stroke-width="1.9" stroke-linejoin="miter"/>
<path d="M1172 253.8 L1251.7 253.8 A20.4 20.4 0 0 1 1251.7 294.6 L1172 294.6 Z" fill="rgba(5,25,35,0.34)"/>
<path d="M1168 249.8 L1247.7 249.8 A20.4 20.4 0 0 1 1247.7 290.6 L1168 290.6 Z" fill="url(#gyv)" stroke="#333" stroke-width="2"/>
<text x="1217.44" y="273.8" font-family='"Liberation Mono","DejaVu Sans Mono",monospace' font-size="10.39" text-anchor="middle" fill="#111" letter-spacing="0.77">pad_nine</text>
<path d="M604.2 562.7 L683.65 562.7 A20.75 20.75 0 0 1 683.65 604.2 L604.2 604.2 Z" fill="rgba(5,25,35,0.34)"/>
<path d="M600.2 558.7 L679.65 558.7 A20.75 20.75 0 0 1 679.65 600.2 L600.2 600.2 Z" fill="url(#gyv)" stroke="#333" stroke-width="2"/>
<text x="649.69" y="583.05" font-family='"Liberation Mono","DejaVu Sans Mono",monospace' font-size="10.39" text-anchor="middle" fill="#111" letter-spacing="0.77">padjal</text>
<path d="M1058.8 924.5 L1138.75 924.5 A20.25 20.25 0 0 1 1138.75 965 L1058.8 965 Z" fill="rgba(5,25,35,0.34)"/>
<path d="M1054.8 920.5 L1134.75 920.5 A20.25 20.25 0 0 1 1134.75 961 L1054.8 961 Z" fill="url(#gyv)" stroke="#333" stroke-width="2"/>
<text x="1104.29" y="944.35" font-family='"Liberation Mono","DejaVu Sans Mono",monospace' font-size="10.39" text-anchor="middle" fill="#111" letter-spacing="0.77">pad_five</text>
<polygon points="1082.2,281.5 1121.8,299.4 1121.8,358.6 1082.2,377.8" fill="rgba(5,25,35,0.34)"/>
<polygon points="1078.2,277.5 1117.8,295.4 1117.8,354.6 1078.2,373.8" fill="url(#gyv)" stroke="#333" stroke-width="2" stroke-linejoin="miter"/>
<text x="1099.2" y="314" font-family='"Liberation Mono","DejaVu Sans Mono",monospace' font-size="13.3" text-anchor="middle" fill="#111">1</text>
<text x="1099.2" y="344" font-family='"Liberation Mono","DejaVu Sans Mono",monospace' font-size="13.3" text-anchor="middle" fill="#111">0</text>
<text x="1095.89" y="386.3" font-family='"Liberation Mono","DejaVu Sans Mono",monospace' font-size="10.39" text-anchor="middle" fill="#111" letter-spacing="0.77">mux3</text>
<polygon points="1548.4,237.4 1588.5,254.5 1588.5,314.7 1548.4,333.3" fill="rgba(5,25,35,0.34)"/>
<polygon points="1544.4,233.4 1584.5,250.5 1584.5,310.7 1544.4,329.3" fill="url(#gyv)" stroke="#333" stroke-width="2" stroke-linejoin="miter"/>
<text x="1564.8" y="270.1" font-family='"Liberation Mono","DejaVu Sans Mono",monospace' font-size="13.3" text-anchor="middle" fill="#111">1</text>
<text x="1564.8" y="300.1" font-family='"Liberation Mono","DejaVu Sans Mono",monospace' font-size="13.3" text-anchor="middle" fill="#111">0</text>
<text x="1548.39" y="341.8" font-family='"Liberation Mono","DejaVu Sans Mono",monospace' font-size="10.39" text-anchor="middle" fill="#111" letter-spacing="0.77">mux4</text>
<polygon points="2044.4,158 2085.4,176 2085.4,236.3 2044.4,254.7" fill="rgba(5,25,35,0.34)"/>
<polygon points="2040.4,154 2081.4,172 2081.4,232.3 2040.4,250.7" fill="url(#gyv)" stroke="#333" stroke-width="2" stroke-linejoin="miter"/>
<text x="2060.5" y="191" font-family='"Liberation Mono","DejaVu Sans Mono",monospace' font-size="13.3" text-anchor="middle" fill="#111">1</text>
<text x="2060.5" y="220.9" font-family='"Liberation Mono","DejaVu Sans Mono",monospace' font-size="13.3" text-anchor="middle" fill="#111">0</text>
<text x="2060.89" y="262.9" font-family='"Liberation Mono","DejaVu Sans Mono",monospace' font-size="10.39" text-anchor="middle" fill="#111" letter-spacing="0.77">mux6</text>
<polygon points="1076,480 1116,498 1116,555.2 1076,574.5" fill="rgba(5,25,35,0.34)"/>
<polygon points="1072,476 1112,494 1112,551.2 1072,570.5" fill="url(#gyv)" stroke="#333" stroke-width="2" stroke-linejoin="miter"/>
<text x="1091.3" y="511" font-family='"Liberation Mono","DejaVu Sans Mono",monospace' font-size="13.3" text-anchor="middle" fill="#111">1</text>
<text x="1091.3" y="541" font-family='"Liberation Mono","DejaVu Sans Mono",monospace' font-size="13.3" text-anchor="middle" fill="#111">0</text>
<text x="1092.09" y="583.1" font-family='"Liberation Mono","DejaVu Sans Mono",monospace' font-size="10.39" text-anchor="middle" fill="#111" letter-spacing="0.77">mux5</text>
<polygon points="1025.9,583.5 1066.3,601.4 1066.3,661.5 1025.9,680.4" fill="rgba(5,25,35,0.34)"/>
<polygon points="1021.9,579.5 1062.3,597.4 1062.3,657.5 1021.9,676.4" fill="url(#gyv)" stroke="#333" stroke-width="2" stroke-linejoin="miter"/>
<text x="1041.2" y="617.3" font-family='"Liberation Mono","DejaVu Sans Mono",monospace' font-size="13.3" text-anchor="middle" fill="#111">1</text>
<text x="1041.2" y="647.3" font-family='"Liberation Mono","DejaVu Sans Mono",monospace' font-size="13.3" text-anchor="middle" fill="#111">0</text>
<text x="1029.79" y="689" font-family='"Liberation Mono","DejaVu Sans Mono",monospace' font-size="10.39" text-anchor="middle" fill="#111" letter-spacing="0.77">mux1</text>
<polygon points="1588.5,524.4 1629,542.3 1629,602.4 1588.5,620.3" fill="rgba(5,25,35,0.34)"/>
<polygon points="1584.5,520.4 1625,538.3 1625,598.4 1584.5,616.3" fill="url(#gyv)" stroke="#333" stroke-width="2" stroke-linejoin="miter"/>
<text x="1603.5" y="557.5" font-family='"Liberation Mono","DejaVu Sans Mono",monospace' font-size="13.3" text-anchor="middle" fill="#111">1</text>
<text x="1603.5" y="587.2" font-family='"Liberation Mono","DejaVu Sans Mono",monospace' font-size="13.3" text-anchor="middle" fill="#111">0</text>
<text x="1603.89" y="629.2" font-family='"Liberation Mono","DejaVu Sans Mono",monospace' font-size="10.39" text-anchor="middle" fill="#111" letter-spacing="0.77">mux2</text>
<rect x="1259.3" y="442.1" width="139.9" height="173.6" fill="rgba(5,25,35,0.34)"/>
<rect x="1255.3" y="438.1" width="139.9" height="173.6" fill="url(#gyv)" stroke="#333" stroke-width="2"/>
<rect x="1262.4" y="526.5" width="42" height="86.7" fill="rgba(5,25,35,0.34)"/>
<rect x="1258.4" y="522.5" width="42" height="86.7" fill="#cc3333" stroke="#333" stroke-width="2"/>
<path d="M1259.9 608.2 L1279.4 575.9 L1298.9 608.2" fill="none" stroke="#3a2626" stroke-width="1.5" stroke-linejoin="miter"/>
<text x="1276.39" y="466.4" font-family='"Liberation Mono","DejaVu Sans Mono",monospace' font-size="10.39" text-anchor="middle" fill="#111" letter-spacing="0.77">ra_0</text>
<text x="1279.29" y="500.4" font-family='"Liberation Mono","DejaVu Sans Mono",monospace' font-size="10.39" text-anchor="middle" fill="#111" letter-spacing="0.77">ra_1</text>
<text x="1369.39" y="490.4" font-family='"Liberation Mono","DejaVu Sans Mono",monospace' font-size="10.39" text-anchor="middle" fill="#111" letter-spacing="0.77">rd_1</text>
<text x="1370.49" y="526.1" font-family='"Liberation Mono","DejaVu Sans Mono",monospace' font-size="10.39" text-anchor="middle" fill="#111" letter-spacing="0.77">rd_0</text>
<text x="1279.29" y="540.1" font-family='"Liberation Mono","DejaVu Sans Mono",monospace' font-size="10.39" text-anchor="middle" fill="#200" letter-spacing="0.77">wa_i</text>
<text x="1278.19" y="566.2" font-family='"Liberation Mono","DejaVu Sans Mono",monospace' font-size="10.39" text-anchor="middle" fill="#200" letter-spacing="0.77">wd_i</text>
<text x="1383.07" y="583.8" font-family='"Liberation Mono","DejaVu Sans Mono",monospace' font-size="10.39" text-anchor="end" fill="#111" letter-spacing="0.77">REGISTER</text>
<text x="1383.07" y="598.8" font-family='"Liberation Mono","DejaVu Sans Mono",monospace' font-size="10.39" text-anchor="end" fill="#111" letter-spacing="0.77">FILE</text>
<rect x="1980.1" y="567.5" width="140.1" height="174.1" fill="rgba(5,25,35,0.34)"/>
<rect x="1976.1" y="563.5" width="140.1" height="174.1" fill="url(#gyv)" stroke="#333" stroke-width="2"/>
<rect x="1983.2" y="651.9" width="42" height="86.5" fill="rgba(5,25,35,0.34)"/>
<rect x="1979.2" y="647.9" width="42" height="86.5" fill="#cc3333" stroke="#333" stroke-width="2"/>
<path d="M1980.7 733.4 L2000.2 700.8 L2019.7 733.4" fill="none" stroke="#3a2626" stroke-width="1.5" stroke-linejoin="miter"/>
<text x="2000.29" y="670.4" font-family='"Liberation Mono","DejaVu Sans Mono",monospace' font-size="10.39" text-anchor="middle" fill="#200" letter-spacing="0.77">wd_i</text>
<text x="2000.29" y="690.4" font-family='"Liberation Mono","DejaVu Sans Mono",monospace' font-size="10.39" text-anchor="middle" fill="#200" letter-spacing="0.77">wa_i</text>
<text x="2098.57" y="709.7" font-family='"Liberation Mono","DejaVu Sans Mono",monospace' font-size="10.39" text-anchor="end" fill="#111" letter-spacing="0.77">DATA</text>
<text x="2098.57" y="724.8" font-family='"Liberation Mono","DejaVu Sans Mono",monospace' font-size="10.39" text-anchor="end" fill="#111" letter-spacing="0.77">MEMORY</text>
<path d="M1681.3 185.6 L1694.1 179.5 L1681.3 173.4" fill="none" stroke="#000" stroke-width="3.3" stroke-linejoin="miter" stroke-miterlimit="10"/>
<path d="M682.8 355.1 L695.6 349 L682.8 342.9" fill="none" stroke="#000" stroke-width="3.3" stroke-linejoin="miter" stroke-miterlimit="10"/>
<path d="M1151.49 276.47 L1164.3 270.39 L1151.51 264.27" fill="none" stroke="#000" stroke-width="3.3" stroke-linejoin="miter" stroke-miterlimit="10"/>
<path d="M682.8 429.5 L695.6 423.4 L682.8 417.3" fill="none" stroke="#000" stroke-width="3.3" stroke-linejoin="miter" stroke-miterlimit="10"/>
<path d="M583.3 585 L596.1 578.9 L583.3 572.8" fill="none" stroke="#000" stroke-width="3.3" stroke-linejoin="miter" stroke-miterlimit="10"/>
<path d="M894.2 692.5 L907 686.4 L894.2 680.3" fill="none" stroke="#000" stroke-width="3.3" stroke-linejoin="miter" stroke-miterlimit="10"/>
<path d="M894.2 751.6 L907 745.5 L894.2 739.4" fill="none" stroke="#000" stroke-width="3.3" stroke-linejoin="miter" stroke-miterlimit="10"/>
<path d="M894.2 784.6 L907 778.5 L894.2 772.4" fill="none" stroke="#000" stroke-width="3.3" stroke-linejoin="miter" stroke-miterlimit="10"/>
<path d="M894.2 814.6 L907 808.5 L894.2 802.4" fill="none" stroke="#000" stroke-width="3.3" stroke-linejoin="miter" stroke-miterlimit="10"/>
<path d="M894.2 844.3 L907 838.2 L894.2 832.1" fill="none" stroke="#000" stroke-width="3.3" stroke-linejoin="miter" stroke-miterlimit="10"/>
<path d="M2267.5 1023.29 L2280.3 1017.2 L2267.5 1011.09" fill="none" stroke="#000" stroke-width="3.3" stroke-linejoin="miter" stroke-miterlimit="10"/>
<path d="M2439.8 786.7 L2452.6 780.6 L2439.8 774.5" fill="none" stroke="#000" stroke-width="3.3" stroke-linejoin="miter" stroke-miterlimit="10"/>
<path d="M2445.5 848.3 L2458.3 842.2 L2445.5 836.1" fill="none" stroke="#000" stroke-width="3.3" stroke-linejoin="miter" stroke-miterlimit="10"/>
<path d="M1239.3 566.9 L1252.1 560.8 L1239.3 554.7" fill="none" stroke="#000" stroke-width="3.3" stroke-linejoin="miter" stroke-miterlimit="10"/>
<path d="M1239.3 541.2 L1252.1 535.1 L1239.3 529" fill="none" stroke="#000" stroke-width="3.3" stroke-linejoin="miter" stroke-miterlimit="10"/>
<path d="M1239.3 496.4 L1252.1 490.3 L1239.3 484.2" fill="none" stroke="#000" stroke-width="3.3" stroke-linejoin="miter" stroke-miterlimit="10"/>
<path d="M1239.3 467.8 L1252.1 461.7 L1239.3 455.6" fill="none" stroke="#000" stroke-width="3.3" stroke-linejoin="miter" stroke-miterlimit="10"/>
<path d="M1037.9 947 L1050.7 940.9 L1037.9 934.8" fill="none" stroke="#000" stroke-width="3.3" stroke-linejoin="miter" stroke-miterlimit="10"/>
<path d="M1063.2 347.8 L1076 341.7 L1063.2 335.6" fill="none" stroke="#000" stroke-width="3.3" stroke-linejoin="miter" stroke-miterlimit="10"/>
<path d="M1058.1 514.3 L1070.9 508.2 L1058.1 502.1" fill="none" stroke="#000" stroke-width="3.3" stroke-linejoin="miter" stroke-miterlimit="10"/>
<path d="M1008 620.6 L1020.8 614.5 L1008 608.4" fill="none" stroke="#000" stroke-width="3.3" stroke-linejoin="miter" stroke-miterlimit="10"/>
<path d="M1529.8 275.41 L1542.6 269.3 L1529.8 263.21" fill="none" stroke="#000" stroke-width="3.3" stroke-linejoin="miter" stroke-miterlimit="10"/>
<path d="M1681 259.4 L1693.8 253.3 L1681 247.2" fill="none" stroke="#000" stroke-width="3.3" stroke-linejoin="miter" stroke-miterlimit="10"/>
<path d="M2026.76 224.4 L2039.6 218.4 L2026.85 212.2" fill="none" stroke="#000" stroke-width="3.3" stroke-linejoin="miter" stroke-miterlimit="10"/>
<path d="M2252.1 204.7 L2264.9 198.6 L2252.1 192.5" fill="none" stroke="#000" stroke-width="3.3" stroke-linejoin="miter" stroke-miterlimit="10"/>
<path d="M1730.21 422.82 L1743 416.7 L1730.19 410.62" fill="none" stroke="#000" stroke-width="3.3" stroke-linejoin="miter" stroke-miterlimit="10"/>
<path d="M2297.2 369.51 L2310 363.4 L2297.2 357.31" fill="none" stroke="#000" stroke-width="3.3" stroke-linejoin="miter" stroke-miterlimit="10"/>
<path d="M2300.5 402.7 L2313.3 396.6 L2300.5 390.5" fill="none" stroke="#000" stroke-width="3.3" stroke-linejoin="miter" stroke-miterlimit="10"/>
<path d="M1570.6 560.3 L1583.4 554.2 L1570.6 548.1" fill="none" stroke="#000" stroke-width="3.3" stroke-linejoin="miter" stroke-miterlimit="10"/>
<path d="M1715.8 872.81 L1728.6 866.7 L1715.8 860.61" fill="none" stroke="#000" stroke-width="3.3" stroke-linejoin="miter" stroke-miterlimit="10"/>
<path d="M1530.5 303.1 L1543.3 297 L1530.5 290.9" fill="none" stroke="#000" stroke-width="3.3" stroke-linejoin="miter" stroke-miterlimit="10"/>
<path d="M1570.6 590.9 L1583.4 584.8 L1570.6 578.7" fill="none" stroke="#000" stroke-width="3.3" stroke-linejoin="miter" stroke-miterlimit="10"/>
<path d="M1715.8 946.49 L1728.6 940.4 L1715.8 934.29" fill="none" stroke="#000" stroke-width="3.3" stroke-linejoin="miter" stroke-miterlimit="10"/>
<path d="M1730.18 514.95 L1743 508.9 L1730.22 502.75" fill="none" stroke="#000" stroke-width="3.3" stroke-linejoin="miter" stroke-miterlimit="10"/>
<path d="M1961.7 670 L1974.5 663.9 L1961.7 657.8" fill="none" stroke="#000" stroke-width="3.3" stroke-linejoin="miter" stroke-miterlimit="10"/>
<path d="M1961.7 694.6 L1974.5 688.5 L1961.7 682.4" fill="none" stroke="#000" stroke-width="3.3" stroke-linejoin="miter" stroke-miterlimit="10"/>
<path d="M1006.7 650.5 L1019.5 644.4 L1006.7 638.3" fill="none" stroke="#000" stroke-width="3.3" stroke-linejoin="miter" stroke-miterlimit="10"/>
<path d="M1057.5 544.3 L1070.3 538.2 L1057.5 532.1" fill="none" stroke="#000" stroke-width="3.3" stroke-linejoin="miter" stroke-miterlimit="10"/>
<path d="M1060.1 317.6 L1072.9 311.5 L1060.1 305.4" fill="none" stroke="#000" stroke-width="3.3" stroke-linejoin="miter" stroke-miterlimit="10"/>
<path d="M1447 108.9 L1440.9 96.1 L1434.8 108.9" fill="none" stroke="#000" stroke-width="3.3" stroke-linejoin="miter" stroke-miterlimit="10"/>
<path d="M2025.9 194.6 L2038.7 188.5 L2025.9 182.4" fill="none" stroke="#000" stroke-width="3.3" stroke-linejoin="miter" stroke-miterlimit="10"/>
<path d="M474 28.3 L486.8 22.2 L474 16.1" fill="none" stroke="#000" stroke-width="3.3" stroke-linejoin="miter" stroke-miterlimit="10"/>
<path d="M474 53.8 L486.8 47.7 L474 41.6" fill="none" stroke="#000" stroke-width="3.3" stroke-linejoin="miter" stroke-miterlimit="10"/>
<path d="M474 81.6 L486.8 75.5 L474 69.4" fill="none" stroke="#000" stroke-width="3.3" stroke-linejoin="miter" stroke-miterlimit="10"/>
<path d="M474 105.7 L486.8 99.6 L474 93.5" fill="none" stroke="#000" stroke-width="3.3" stroke-linejoin="miter" stroke-miterlimit="10"/>
<path d="M474 124.8 L486.8 118.7 L474 112.6" fill="none" stroke="#000" stroke-width="3.3" stroke-linejoin="miter" stroke-miterlimit="10"/>
<path d="M2530 27.5 L2542.8 21.4 L2530 15.3" fill="none" stroke="#000" stroke-width="3.3" stroke-linejoin="miter" stroke-miterlimit="10"/>
<path d="M2520.9 53.8 L2533.7 47.7 L2520.9 41.6" fill="none" stroke="#000" stroke-width="3.3" stroke-linejoin="miter" stroke-miterlimit="10"/>
<path d="M2519.3 80.1 L2532.1 74 L2519.3 67.9" fill="none" stroke="#000" stroke-width="3.3" stroke-linejoin="miter" stroke-miterlimit="10"/>
<path d="M2520.9 99.6 L2533.7 93.5 L2520.9 87.4" fill="none" stroke="#000" stroke-width="3.3" stroke-linejoin="miter" stroke-miterlimit="10"/>
<path d="M2549.7 116 L2562.5 109.9 L2549.7 103.8" fill="none" stroke="#000" stroke-width="3.3" stroke-linejoin="miter" stroke-miterlimit="10"/>
<path d="M2561.2 204.4 L2574 198.3 L2561.2 192.2" fill="none" stroke="#000" stroke-width="3.3" stroke-linejoin="miter" stroke-miterlimit="10"/>
<text x="11" y="1603" font-family='"DejaVu Sans","Liberation Sans",sans-serif' font-size="11.6" font-weight="bold" text-anchor="start" fill="#111">create and share your own diagrams at gliffy.com</text>
<path d="M2505.6 1594 L2520.4 1586.6 L2535.2 1593.7 L2520.4 1608.4 Z" fill="#fff" stroke="#000" stroke-width="1.6" stroke-linejoin="miter"/>
<path d="M2519.6 1608.3 C2516.6 1601 2516.6 1590 2520.6 1582.8 L2518.4 1581.8 L2527.6 1579.2 L2529.1 1586.2 L2525.6 1586.4 C2522.6 1592 2521.2 1600 2521.9 1606.6 Z" fill="#2b7fc6"/>
<text x="2537.6" y="1603.9" font-family='"Liberation Sans","DejaVu Sans",sans-serif' font-size="25.5" font-weight="bold" text-anchor="start" fill="#000" textLength="51.5" lengthAdjust="spacingAndGlyphs" stroke="#000" stroke-width="0.5">gliffy</text>
</svg>
</body></html>
